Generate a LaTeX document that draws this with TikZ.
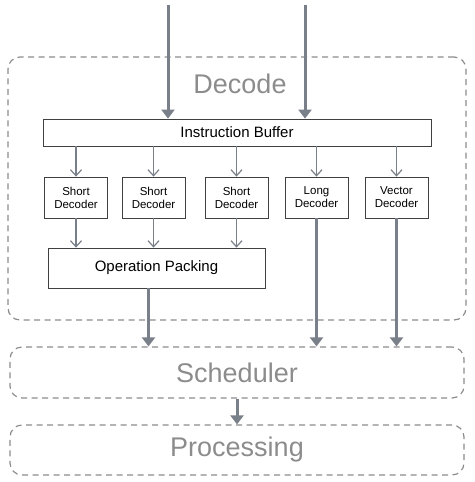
\documentclass[tikz,border=0pt]{standalone}
\usepackage{fontspec}
\setmainfont{Liberation Sans}
\usetikzlibrary{arrows.meta,positioning}
\definecolor{arrowgray}{HTML}{7A8089}
\definecolor{framegray}{HTML}{8C8C8C}

\begin{document}
\begin{tikzpicture}[x=1pt, y=-1pt,
    unit/.style={draw=black!75, line width=0.8pt, fill=white, inner sep=0pt, align=center},
    decoder/.style={unit, minimum width=63pt, minimum height=41pt, font=\fontsize{11.5}{13}\selectfont},
    stage/.style={draw=framegray, dash pattern=on 6pt off 4.5pt, line width=1.2pt, rounded corners=12pt, inner sep=0pt},
    feed/.style={arrowgray, line width=1.2pt, -{Straight Barb[length=6pt, width=11pt]}},
    bus/.style={arrowgray, line width=3pt, -{Triangle[length=9pt, width=13pt]}}]
    \useasboundingbox (0, 0) rectangle (474, 482);

    % Dashed stage frames
    \node[stage, minimum width=458pt, minimum height=263pt] (decode) at (237, 188.5) {};
    \node[font=\fontsize{27}{30}\selectfont, text=framegray] (decodetitle) at (240, 84) {Decode};
    \node[stage, minimum width=454pt, minimum height=51pt, font=\fontsize{27}{30}\selectfont, text=framegray] (sched) at (237, 372.5) {Scheduler};
    \node[stage, minimum width=454pt, minimum height=50pt, font=\fontsize{27}{30}\selectfont, text=framegray] (proc) at (237, 450) {Processing};

    % Instruction buffer
    \node[unit, minimum width=388pt, minimum height=27pt, font=\fontsize{15}{17}\selectfont] (buf) at (237, 132.5) {Instruction Buffer};

    % Decoders
    \node[decoder] (sd1) at (76, 197.5) {Short\\Decoder};
    \node[decoder] (sd2) at (153.5, 197.5) {Short\\Decoder};
    \node[decoder] (sd3) at (236.5, 197.5) {Short\\Decoder};
    \node[decoder] (ld) at (316.5, 197.5) {Long\\Decoder};
    \node[decoder] (vd) at (396.5, 197.5) {Vector\\Decoder};

    % Packing
    \node[unit, minimum width=217pt, minimum height=40pt, font=\fontsize{15}{17}\selectfont] (pack) at (156.5, 268) {Operation Packing};

    % Incoming instruction streams
    \coordinate (in1) at (168, 5);
    \coordinate (in2) at (305, 5);
    \draw[bus] (in1) -- (in1 |- buf.north);
    \draw[bus] (in2) -- (in2 |- buf.north);

    % Buffer to decoders
    \foreach \d in {sd1, sd2, sd3, ld, vd}
        \draw[feed] (\d.north |- buf.south) -- (\d.north);

    % Short decoders to packing
    \foreach \d in {sd1, sd2, sd3}
        \draw[feed] (\d.south) -- (\d.south |- pack.north);

    % Into the scheduler
    \coordinate (packout) at ([xshift=-8pt]pack.south);
    \draw[bus] (packout) -- (packout |- sched.north);
    \draw[bus] (ld.south) -- (ld.south |- sched.north);
    \draw[bus] (vd.south) -- (vd.south |- sched.north);
    \draw[bus] (sched.south) -- (proc.north);
\end{tikzpicture}
\end{document}
